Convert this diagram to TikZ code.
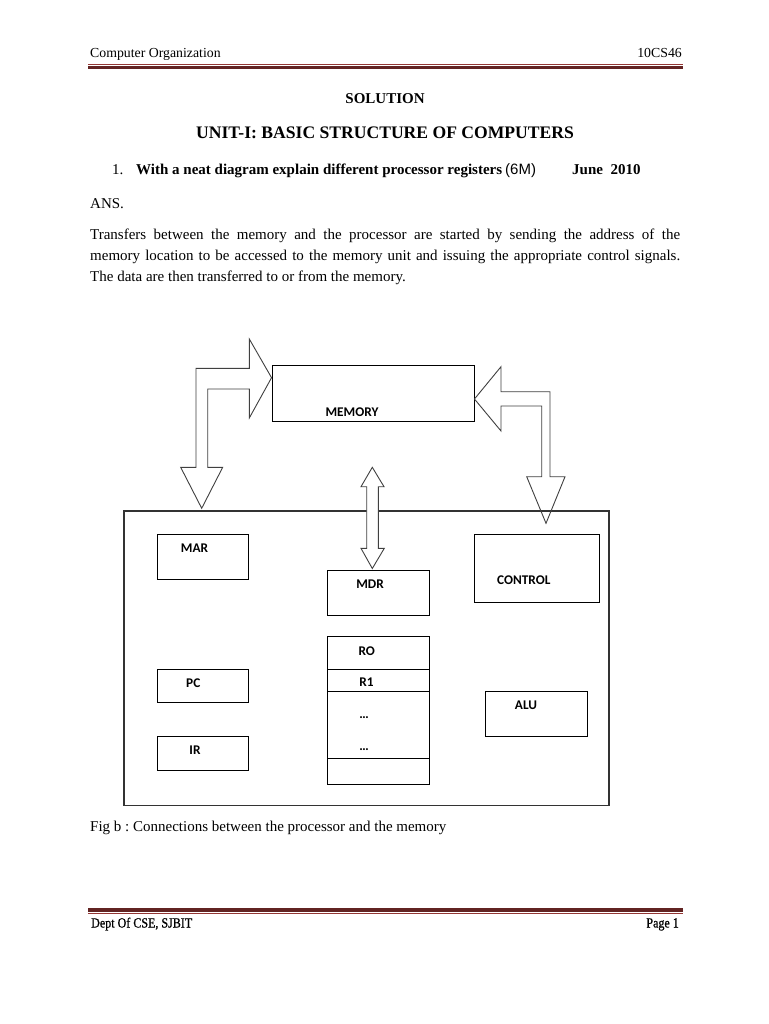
\documentclass[tikz,border=0pt]{standalone}
\usepackage{fontspec}
\setmainfont{Liberation Serif}
\newfontfamily\calib{Carlito}
\newfontfamily\arialf{Liberation Sans}
\newfontfamily\footf[FakeStretch=0.86,FakeBold=0.8]{Liberation Serif}
\usetikzlibrary{fit}
\definecolor{maroonA}{HTML}{622423}
\definecolor{maroonB}{HTML}{943634}
\frenchspacing
\begin{document}
\begin{tikzpicture}[x=1pt,y=-1pt,
  box/.style={draw=black, line width=0.9pt, inner sep=0pt},
  lbl/.style={font=\calib\bfseries\fontsize{13.3}{15}\selectfont, inner sep=0pt, anchor=base},
  body/.style={font=\fontsize{15}{18}\selectfont, inner sep=0pt, anchor=base west},
  hdr/.style={font=\fontsize{13.8}{16}\selectfont, inner sep=0pt},
  ftr/.style={font=\footf\fontsize{14}{16}\selectfont, inner sep=0pt},
  blockarrow/.style={draw=black!75, line width=0.9pt, line join=miter}]
\useasboundingbox[fill=white] (0,0) rectangle (768,1024);

% header
\node[hdr, anchor=base west] (hl) at (90,57.5) {Computer Organization};
\node[hdr, anchor=base east] (hr) at (682,57.5) {10CS46};
\draw[maroonB, line width=0.9pt] (88,64.5) -- (683,64.5);
\fill[maroonA] (88,66) rectangle (683,69.5);

% titles
\node[font=\bfseries\fontsize{15}{18}\selectfont, inner sep=0pt, anchor=base] (sol) at (385,103.5) {SOLUTION};
\node[font=\bfseries\fontsize{17.6}{20}\selectfont, inner sep=0pt, anchor=base] (unit) at (385,138.5) {UNIT-I: BASIC STRUCTURE OF COMPUTERS};
\node[body] (qn) at (112,174.5) {1.};
\node[body, font=\bfseries\fontsize{15}{18}\selectfont] (q) at (136,174.5) {With a neat diagram explain different processor registers};
\node[body, font=\arialf\fontsize{15}{18}\selectfont] (q6) at (505,174.5) {(6M)};
\node[body, font=\bfseries\fontsize{15}{18}\selectfont] (qd) at (572,174.5) {June\ \ 2010};
\node[body] (ans) at (90,208.5) {ANS.};

% paragraph
\node[body] (p1) at (90,239.5) {\makebox[590pt][s]{Transfers between the memory and the processor are started by sending the address of the}};
\node[body] (p2) at (90,260.5) {\makebox[590pt][s]{memory location to be accessed to the memory unit and issuing the appropriate control signals.}};
\node[body] (p3) at (90,281.5) {The data are then transferred to or from the memory.};

% diagram boxes
\node[box, fit={(272,365) (474,421)}] (mem) {};
\node[lbl] (memt) at (352,416) {MEMORY};

\draw[draw=black!80, line width=1.2pt] (124,511) rectangle (609,805.7);

\node[box, fit={(157.7,534.3) (248.3,579.3)}] (mar) {};
\node[lbl] (mart) at (194.5,552.3) {MAR};
\node[box, fit={(327.7,570.3) (429,615.7)}] (mdr) {};
\node[lbl] (mdrt) at (370,588.3) {MDR};
\node[box, fit={(474,534.3) (599,602.7)}] (ctl) {};
\node[lbl] (ctlt) at (523.8,584.3) {CONTROL};

\node[box, fit={(327.7,636.7) (429,784.3)}] (regs) {};
\draw[line width=0.9pt] (regs.west |- 0,669.3) -- (regs.east |- 0,669.3);
\draw[line width=0.9pt] (regs.west |- 0,691.3) -- (regs.east |- 0,691.3);
\draw[line width=0.9pt] (regs.west |- 0,758.3) -- (regs.east |- 0,758.3);
\node[lbl] (r0) at (366.7,655) {RO};
\node[lbl] (r1) at (366.5,686.7) {R1};
\node[lbl] (d1) at (364,718.5) {…};
\node[lbl] (d2) at (364,750.5) {…};

\node[box, fit={(157.7,669.3) (248.3,702)}] (pc) {};
\node[lbl] (pct) at (193.3,687.3) {PC};
\node[box, fit={(157.7,736.7) (248.3,770.3)}] (ir) {};
\node[lbl] (irt) at (195,754) {IR};
\node[box, fit={(485.7,691.3) (587.7,736.3)}] (alu) {};
\node[lbl] (alut) at (526,709) {ALU};

% block arrows
\draw[blockarrow] (201.7,508.3) -- (222.7,467.3) -- (207.7,467.3) -- (207.7,389) -- (249.3,389)
  -- (249.3,418) -- (mem.west |- 0,377.7) -- (249.3,339) -- (249.3,368.3) -- (196,368.3)
  -- (196,467.3) -- (180.7,467.3) -- cycle;
\draw[blockarrow] (mem.east |- 0,399) -- (501,366.7) -- (501,391.7) -- (550,391.7) -- (550,476.7)
  -- (565,476.7) -- (546,523.3) -- (526.7,476.7) -- (541.7,476.7) -- (541.7,406) -- (501,406)
  -- (501,431) -- cycle;
\draw[blockarrow, fill=white] (372.3,467.3) -- (384,486.7) -- (378.3,486.7) -- (378.3,548.3)
  -- (384.3,548.3) -- (372.3,568.5) -- (361,548.3) -- (366.7,548.3) -- (366.7,486.7)
  -- (361,486.7) -- cycle;

% caption
\node[body] (cap) at (90,831) {Fig b : Connections between the processor and the memory};

% footer
\fill[maroonA] (88,908) rectangle (683,911.5);
\draw[maroonB, line width=0.9pt] (88,913.3) -- (683,913.3);
\node[ftr, anchor=base west] (fl) at (91,927.5) {Dept Of CSE, SJBIT};
\node[ftr, anchor=base east] (fr) at (679,927.5) {Page 1};
\end{tikzpicture}
\end{document}
